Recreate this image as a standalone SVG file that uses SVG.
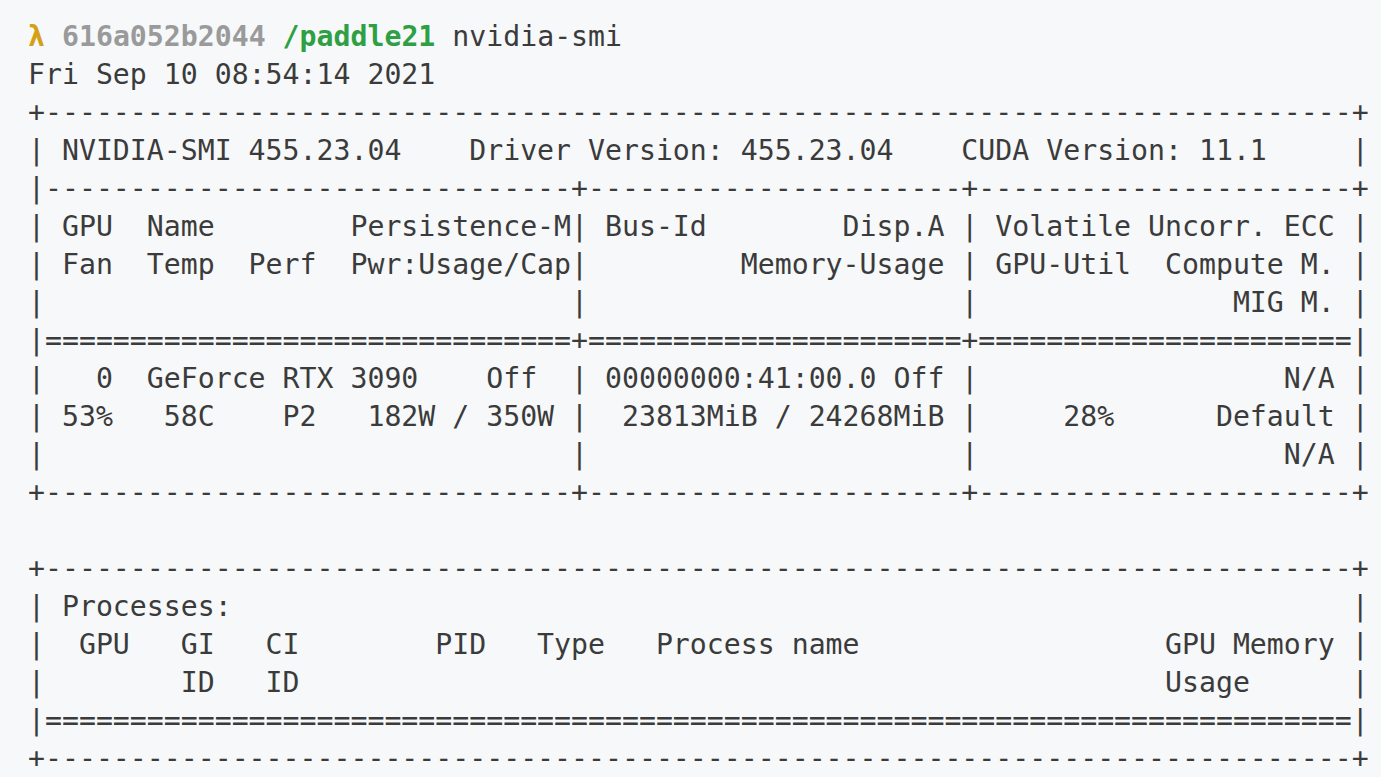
<svg xmlns="http://www.w3.org/2000/svg" width="1381" height="777" viewBox="0 0 1381 777">
<style>
text{font-family:"DejaVu Sans Mono","Liberation Mono",monospace;font-size:28.2px;fill:#3b3b3b;white-space:pre}
.b{font-weight:bold}
</style>
<rect width="1381" height="777" fill="#f6f8fa"/>
<g id="terminal" xml:space="preserve">
<text x="28" y="46"><tspan class="b" fill="#d4a017">λ</tspan> <tspan class="b" fill="#9a9a9a">616a052b2044</tspan> <tspan class="b" fill="#2ea043">/paddle21</tspan> nvidia-smi</text>
<text x="28" y="84">Fri Sep 10 08:54:14 2021</text>
<text x="28" y="122">+-----------------------------------------------------------------------------+</text>
<text x="28" y="160">| NVIDIA-SMI 455.23.04    Driver Version: 455.23.04    CUDA Version: 11.1     |</text>
<text x="28" y="198">|-------------------------------+----------------------+----------------------+</text>
<text x="28" y="236">| GPU  Name        Persistence-M| Bus-Id        Disp.A | Volatile Uncorr. ECC |</text>
<text x="28" y="274">| Fan  Temp  Perf  Pwr:Usage/Cap|         Memory-Usage | GPU-Util  Compute M. |</text>
<text x="28" y="312">|                               |                      |               MIG M. |</text>
<text x="28" y="350">|===============================+======================+======================|</text>
<text x="28" y="388">|   0  GeForce RTX 3090    Off  | 00000000:41:00.0 Off |                  N/A |</text>
<text x="28" y="426">| 53%   58C    P2   182W / 350W |  23813MiB / 24268MiB |     28%      Default |</text>
<text x="28" y="464">|                               |                      |                  N/A |</text>
<text x="28" y="502">+-------------------------------+----------------------+----------------------+</text>
<text x="28" y="578">+-----------------------------------------------------------------------------+</text>
<text x="28" y="616">| Processes:                                                                  |</text>
<text x="28" y="654">|  GPU   GI   CI        PID   Type   Process name                  GPU Memory |</text>
<text x="28" y="692">|        ID   ID                                                   Usage      |</text>
<text x="28" y="730">|=============================================================================|</text>
<text x="28" y="768">+-----------------------------------------------------------------------------+</text>
</g>
</svg>
